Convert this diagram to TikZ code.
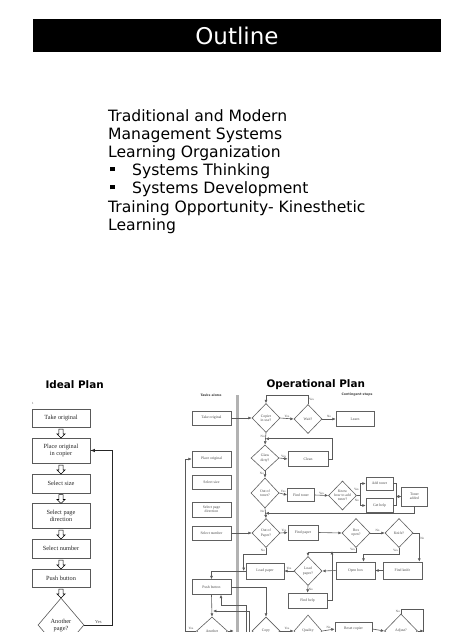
\documentclass[tikz,border=0pt]{standalone}
\usepackage{fontspec}
\setmainfont{DejaVu Sans}
\newfontfamily\chartfont{Liberation Serif}
\usetikzlibrary{shapes.geometric,shapes.arrows,arrows.meta,calc}
\newcommand{\bul}{\makebox[24pt][l]{\hspace{2pt}\raisebox{4.5pt}{\rule{4.5pt}{4.5pt}}}}
\tikzset{
  idealbox/.style={draw=gray!70!black, line width=0.6pt, minimum width=58pt, inner sep=1pt, align=center,
    font=\chartfont\fontsize{6.3}{7}\selectfont, text=gray!30!black},
  idealdec/.style={diamond, draw=gray!70!black, line width=0.6pt, minimum width=46pt, minimum height=54pt, inner sep=0pt,
    align=center, font=\chartfont\fontsize{6.3}{7}\selectfont, text=gray!30!black},
  hollow/.style={single arrow, draw=black, fill=white, rotate=-90, minimum height=9pt, minimum width=8pt,
    inner sep=1.8pt, single arrow head extend=2pt, line width=0.6pt},
  opbox/.style={draw=gray!75!black, line width=0.6pt, minimum width=39pt, minimum height=14pt, inner sep=0.5pt, align=center,
    font=\chartfont\fontsize{3.8}{4.2}\selectfont, text=gray!60!black},
  opdec/.style={diamond, aspect=1, draw=gray!75!black, line width=0.6pt, minimum width=28pt, minimum height=29pt, inner sep=0pt,
    align=center, font=\chartfont\fontsize{3.8}{4.2}\selectfont, text=gray!60!black},
  lab/.style={font=\chartfont\fontsize{3.2}{3.6}\selectfont, text=gray!60!black, inner sep=0.8pt},
  flow/.style={draw=gray!70!black, line width=0.6pt, -{Latex[length=3.4pt,width=3pt]}},
  link/.style={draw=gray!70!black, line width=0.6pt}
}
\begin{document}
\begin{tikzpicture}[x=1pt,y=-1pt,>=latex]
  \clip (0,0) rectangle (474,632);
  \fill[white] (0,0) rectangle (474,632);

  % タイトル
  \node[fill=black, text=white, minimum width=408pt, minimum height=33pt, inner sep=0pt,
    font=\fontsize{23}{26}\selectfont] (title) at (237,35.5) {Outline};

  % 本文
  \node[anchor=north west, align=left, inner sep=0pt, font=\fontsize{15.6}{18.2}\selectfont] (body) at (108,109)
    {Traditional and Modern\\Management Systems\\Learning Organization\\\bul Systems Thinking\\
     \bul Systems Development\\Training Opportunity- Kinesthetic\\Learning};

  % 見出し
  \node[anchor=west, font=\bfseries\fontsize{10.4}{12}\selectfont] (idealhead) at (42,385) {Ideal Plan};
  \node[anchor=west, font=\bfseries\fontsize{10.4}{12}\selectfont] (ophead) at (263,385) {Operational Plan};

  % 理想の計画
  \node[lab] (mark) at (33,403) {1};
  \node[idealbox, minimum height=18pt] (take) at (61,418) {Take original};
  \node[idealbox, minimum height=25pt] (place) at (61,450.5) {Place original\\in copier};
  \node[idealbox, minimum height=19pt] (size) at (61,483.5) {Select size};
  \node[idealbox, minimum height=25pt] (dir) at (61,515.5) {Select page\\direction};
  \node[idealbox, minimum height=19pt] (num) at (61,548.5) {Select number};
  \node[idealbox, minimum height=18pt] (push) at (61,578) {Push button};
  \node[idealdec] (another) at (61,625) {Another\\page?};
  \foreach \a/\b in {take/place,place/size,size/dir,dir/num,num/push,push/another}
    \node[hollow] (h\a) at ($(\a.south)!0.5!(\b.north)$) {};
  \draw[->, gray!30!black, line width=0.6pt] (another.east) -- node[above, lab, font=\chartfont\fontsize{4.5}{5}\selectfont]{Yes} ++(28,0) |- (place.east);

  % 実際の計画
  \node[font=\bfseries\fontsize{3.2}{4}\selectfont, text=gray!50!black] (taskhead) at (211,395) {Tasks alone};
  \node[font=\bfseries\fontsize{3.2}{4}\selectfont, text=gray!50!black] (conthead) at (357,395) {Contingent steps};
  \fill[gray!60] (235.5,395) rectangle (238.5,632);

  \node[opbox] (otake) at (211.5,418) {Take original};
  \node[opbox, minimum height=16pt] (oplace) at (211.5,459) {Place original};
  \node[opbox] (osize) at (211.5,482) {Select size};
  \node[opbox, minimum height=15pt] (odir) at (211.5,509.5) {Select page\\direction};
  \node[opbox] (onum) at (211.5,533) {Select number};
  \node[opbox, minimum height=15pt] (opush) at (211.5,587) {Push button};
  \node[opdec, minimum width=31pt, minimum height=28pt] (oanother) at (212,631) {Another};

  \node[opdec] (copier) at (266,418) {Copier\\in use?};
  \node[opdec] (wait) at (308,419) {Wait?};
  \node[opbox, minimum width=38pt, minimum height=15pt] (learn) at (355,419) {Learn};
  \node[opdec, minimum height=26pt] (glass) at (265,458) {Glass\\dirty?};
  \node[opbox, minimum width=40pt, minimum height=15pt] (clean) at (308,459) {Clean};
  \node[opdec, minimum height=30pt] (toner) at (265,493) {Out of\\toner?};
  \node[opbox, minimum width=27pt, minimum height=13pt] (findtoner) at (301,495) {Find toner};
  \node[opdec] (know) at (342.5,495.5) {Know\\how to add\\toner?};
  \node[opbox, minimum width=27pt, minimum height=13pt] (addtoner) at (379.5,483.5) {Add toner};
  \node[opbox, minimum width=27pt, minimum height=14pt] (gethelp) at (379.5,505.5) {Get help};
  \node[opbox, minimum width=26pt, minimum height=19pt] (added) at (414.5,496.5) {Toner\\added};
  \node[opdec] (paper) at (266,533) {Out of\\Paper?};
  \node[opbox, minimum width=30pt, minimum height=15pt] (findpaper) at (303,532.5) {Find paper};
  \node[opdec] (boxopen) at (356,533) {Box\\open?};
  \node[opdec] (knife) at (399,533) {Knife?};
  \node[opbox, minimum height=17pt] (openbox) at (355.5,570.5) {Open box};
  \node[opbox, minimum height=17pt] (findknife) at (402.5,570.5) {Find knife};
  \node[opdec] (loadq) at (308,571) {Load\\paper?};
  \node[opbox, minimum width=38pt, minimum height=16pt] (loadpaper) at (265,571) {Load paper};
  \node[opbox, minimum height=15pt] (findhelp) at (307.5,600.5) {Find help};
  \node[opdec, minimum height=28pt] (copy) at (266,631) {Copy};
  \node[opdec, minimum height=32pt] (quality) at (308,631) {Quality};
  \node[opbox, minimum width=37pt, minimum height=14pt] (reset) at (353.5,629) {Reset copier};
  \node[opdec, minimum width=33pt, minimum height=34pt] (adjust) at (401,631) {Adjust?};

  \coordinate (helpup) at (332,551);
  \coordinate (ret1) at (246,632);
  \coordinate (ret2) at (249,632);
  \coordinate (adjend) at (423,632);

  \draw[flow] (otake.east) -- (copier.west);
  \draw[flow] (copier.east) -- node[above,lab]{Yes} (wait.west);
  \draw[flow] (wait.east) -- node[above,lab]{No} (learn.west);
  \draw[flow] (wait.north) -- node[right,lab]{Yes} ++(0,-9) -| (copier.north);
  \draw[flow] (copier.south) -- node[left,lab,pos=0.3]{No} (glass.north);
  \draw[flow] (clean.east) -- ++(4,0) |- ($(copier.south)!0.5!(glass.north)$);
  \draw[flow] (glass.east) -- node[above,lab]{Yes} (clean.west);
  \draw[flow] (glass.south) -- node[left,lab,pos=0.3]{No} (toner.north);
  \draw[flow] (toner.east) -- node[above,lab]{Yes} (findtoner.west);
  \draw[flow] (findtoner.east) -- node[above,lab]{Yes} (know.west);
  \draw[flow] (know.east) -- ++(3,0) |- node[pos=0.25,left,lab]{Yes} (addtoner.west);
  \draw[flow] (know.east) -- ++(3,0) |- node[pos=0.25,left,lab]{No} (gethelp.west);
  \draw[flow] (addtoner.east) -- ++(3,0) |- (added.west);
  \draw[flow] (gethelp.east) -- ++(3,0) |- (added.west);
  \draw[flow] (added.south) |- ($(toner.south)!0.5!(paper.north)$);
  \draw[flow] (toner.south) -- node[left,lab,pos=0.3]{No} (paper.north);
  \draw[flow] (onum.east) -- (paper.west);
  \draw[flow] (paper.east) -- node[above,lab]{Yes} (findpaper.west);
  \draw[flow] (findpaper.east) -- (boxopen.west);
  \draw[flow] (boxopen.east) -- node[above,lab]{No} (knife.west);
  \draw[flow] (knife.south) -- node[left,lab]{Yes} ++(0,6) -| ([xshift=8pt]openbox.north);
  \draw[flow] (knife.east) -| node[pos=0.6,right,lab]{No} ([xshift=-3pt]findknife.north east);
  \draw[flow] (findknife.west) -- (openbox.east);
  \draw[flow] (openbox.west) -- (loadq.east);
  \draw[flow] (boxopen.south) -- node[left,lab]{Yes} ++(0,4) -| (loadq.north);
  \draw[flow] (findhelp.east) -| (helpup);
  \draw[flow] (loadq.west) -- node[above,lab]{Yes} (loadpaper.east);
  \draw[flow] (loadq.south) -- node[right,lab]{No} (findhelp.north);
  \draw[flow] (paper.south) -- node[left,lab]{No} ++(0,6) -| ([xshift=-2pt]loadpaper.west);
  \draw[flow] (loadpaper.west) -| (opush.north);
  \draw[flow] (opush.east) -| (copy.north);
  \draw[flow] (opush.south) -- (oanother.north);
  \draw[flow] (ret1) -- ++(0,-27) -| ([xshift=9.5pt]opush.south);
  \draw[flow] (ret2) -- ++(0,-21) -- ++(-36,0);
  \draw[flow] (oanother.west) -- node[above,lab]{Yes} ++(-10.5,0) |- (oplace.west);
  \draw[flow] (oanother.east) -- ++(6,0);
  \draw[flow] (copy.east) -- node[above,lab]{Yes} (quality.west);
  \draw[flow] (quality.east) -- node[above,lab]{No} (reset.west);
  \draw[flow] (reset.east) -- (adjust.west);
  \draw[link] (adjust.north) -- node[left,lab]{No} ++(0,-4) -| (adjend);
  \draw[flow] (adjust.east) -- ++(6,0);
\end{tikzpicture}
\end{document}
